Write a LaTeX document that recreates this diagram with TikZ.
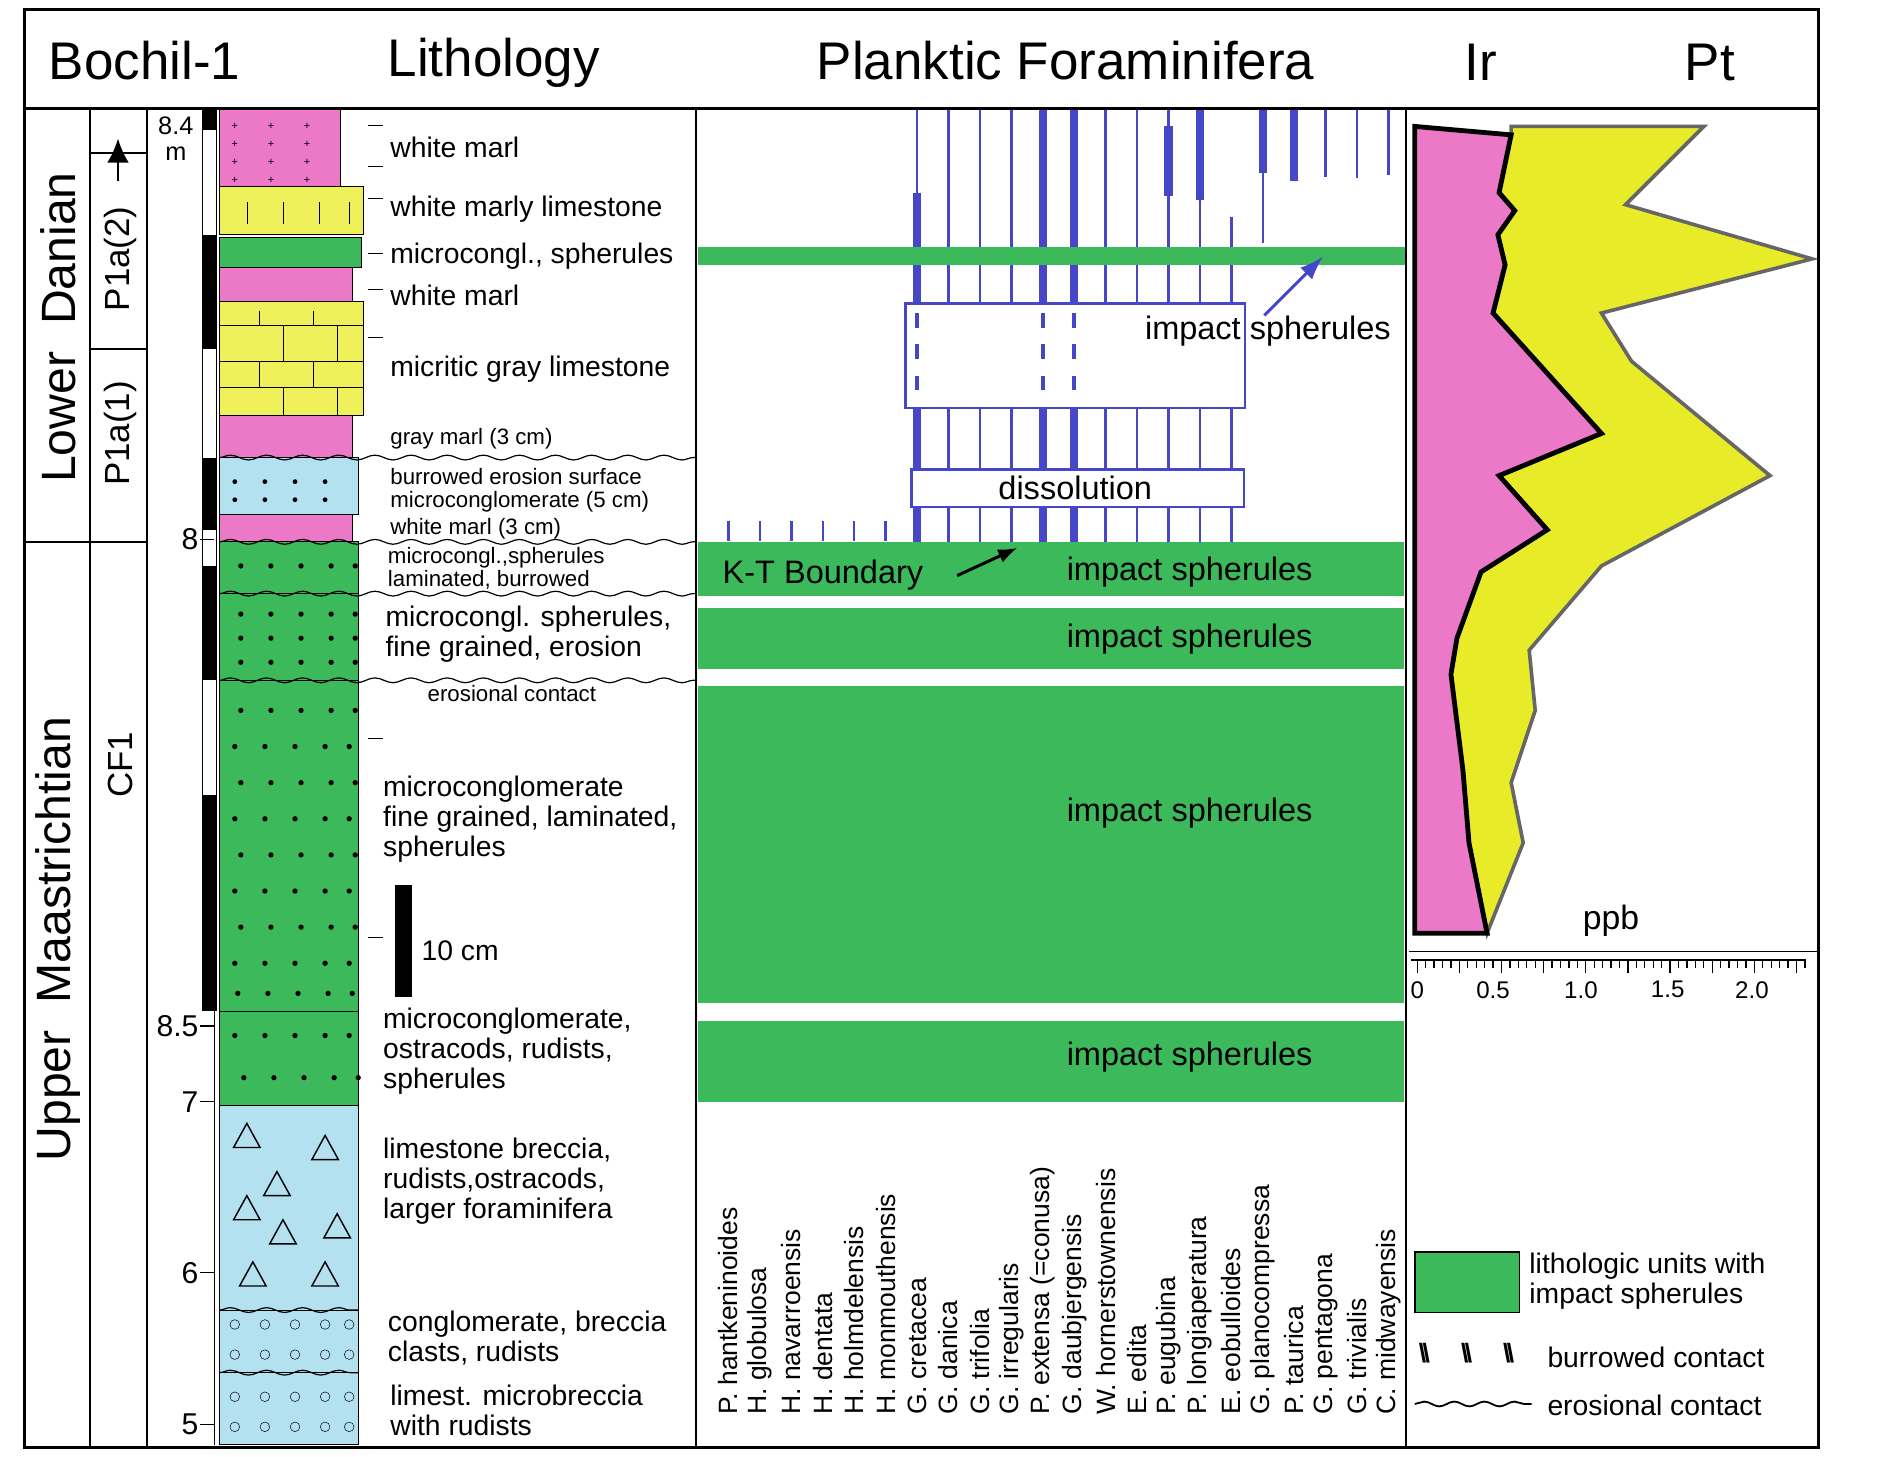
\documentclass[tikz,border=0pt]{standalone}
\usepackage{fontspec}
\setmainfont{Liberation Sans}
\usetikzlibrary{decorations.pathmorphing,arrows.meta}
\definecolor{mpink}{RGB}{236,120,200}
\definecolor{myel}{RGB}{240,240,90}
\definecolor{mgreen}{RGB}{60,185,90}
\definecolor{mblue}{RGB}{180,225,240}
\definecolor{rblue}{RGB}{70,70,200}
\definecolor{pyel}{RGB}{232,235,40}
\tikzset{
  hd/.style={font=\fontsize{44}{48}\selectfont,inner sep=0},
  lab/.style={font=\fontsize{23.5}{25}\selectfont,anchor=west,inner sep=0,align=left},
  slab/.style={font=\fontsize{18.5}{19.5}\selectfont,anchor=west,inner sep=0,align=left},
  sp/.style={font=\fontsize{22}{22}\selectfont,rotate=90,anchor=west,inner sep=0},
  isp/.style={font=\fontsize{27}{29}\selectfont,inner sep=0},
  layer/.style={draw=black,line width=0.8pt},
  rng/.style={draw=rblue,line width=2pt},
  rngt/.style={draw=rblue,line width=7pt},
  wavy/.style={draw=black,line width=1pt,decorate,decoration={snake,amplitude=2pt,segment length=30pt}},
  gband/.style={fill=mgreen,draw=none},
}
\begin{document}
\begin{tikzpicture}[x=1pt,y=-1pt]
\useasboundingbox (0,0) rectangle (1568,1210);
\fill[white] (0,0) rectangle (1568,1210);
% ---- lithology layers
\foreach \a/\b/\c/\r in {90/155/mpink/283,155/195/myel/302,197/222/mgreen/300,222/250/mpink/293,250/345/myel/302,345/380/mpink/293,380/427/mblue/298,427/450/mpink/293,450/493/mgreen/298,493/565/mgreen/298,565/840/mgreen/298,840/918/mgreen/298,918/1088/mblue/298,1088/1140/mblue/298,1140/1200/mblue/298}
  \filldraw[layer,fill=\c] (182,\a) rectangle (\r,\b);
% patterns
\foreach \y in {105,120,135,150} \foreach \x in {195,225,255} \node[font=\small,inner sep=0] at (\x,\y) {+};
\foreach \x in {205,235,265,290} \draw (\x,168)--(\x,186);
\draw (182,270)--(302,270) (182,300)--(302,300) (182,322)--(302,322);
\foreach \x in {215,260} \draw (\x,258)--(\x,270) ({\x+20},270)--({\x+20},300) (\x,300)--(\x,322) ({\x+20},322)--({\x+20},345);
\foreach \y in {470,510,530,550,590,620,650,680,710,740,770,800,825,860,895} \foreach \x in {195,220,245,270,290} \fill ({\x+mod(\y,20)/2},\y) circle (2.2);
\foreach \x/\y in {205/945,270/955,230/985,205/1005,280/1020,235/1025,210/1060,270/1060}
  \draw[line width=1.2pt] (\x,{\y-12})--({\x+11},{\y+8})--({\x-11},{\y+8})--cycle;
\foreach \y in {1100,1125,1160,1185} \foreach \x in {195,220,245,270,290} \draw (\x,\y) circle (4);
\foreach \y in {400,415} \foreach \x in {195,220,245,270} \fill (\x,\y) circle (2);
% erosion surfaces
\draw[wavy] (182,380)--(578,380);
\draw[wavy] (182,450)--(578,450);
\draw[wavy] (182,493)--(578,493);
\draw[wavy] (182,565)--(578,565);
\draw[wavy] (182,1088)--(298,1088);
\draw[wavy] (182,1140)--(298,1140);
% litho labels
\foreach \y/\t in {122/white marl,174/white marly limestone,213/{microcongl., spherules},245/white marl,307/micritic gray limestone}
  \node[lab] at (324,\y) {\t};
\foreach \y in {104,138,165,210,240,280} \draw (306,\y)--(318,\y);
\node[slab] at (324,364) {gray marl (3 cm)};
\node[slab,align=left] at (324,407) {burrowed erosion surface\\microconglomerate (5 cm)};
\node[slab] at (324,439) {white marl (3 cm)};
\node[slab,align=left] at (322,472) {microcongl.,spherules\\laminated, burrowed};
\node[lab] at (320,527) {microcongl. spherules,\\fine grained, erosion};
\node[slab] at (355,576) {erosional contact};
\draw (306,613)--(318,613) (306,778)--(318,778);
\node[lab] at (318,680) {microconglomerate\\fine grained, laminated,\\spherules};
\node[lab] at (318,873) {microconglomerate,\\ostracods, rudists,\\spherules};
\node[lab] at (318,981) {limestone breccia,\\rudists,ostracods,\\larger foraminifera};
\node[lab] at (322,1111) {conglomerate, breccia\\clasts, rudists};
\node[lab] at (324,1171) {limest. microbreccia\\with rudists};
\fill (328,735) rectangle (342,828);
\node[lab] (tencm) at (350,790) {10 cm};
% ---- depth scale
\draw[line width=1pt] (168,90)--(168,840) (180,90)--(180,840);
\foreach \a/\b in {90/108,195/290,380/440,470/565,660/745,745/840} \fill (168,\a) rectangle (180,\b);
\draw[line width=1pt] (178,840)--(178,1200);
\node[font=\fontsize{21}{22}\selectfont,align=center,inner sep=0] at (146,115) {8.4\\m};
\foreach \y/\t in {448/8,852/8.5,915/7,1057/6,1183/5} {\node[font=\fontsize{25}{26}\selectfont,anchor=east,inner sep=0] at (165,\y) {\t}; \draw[line width=1.2pt] (166,\y)--(178,\y);}
% ---- forams
\foreach \y/\h in {450/495,505/556,570/833,848/915} \fill[gband] (580,\y) rectangle (1166,\h);
\foreach \i in {0,...,5} \draw[rng] ({605+26.1*\i},433)--({605+26.1*\i},449);
\foreach \i in {6,...,16} \draw[rng] ({605+26.1*\i},{\i==16?180:90})--({605+26.1*\i},450);
\draw[rngt] (761.6,160)--(761.6,450);
\draw[rngt] (866,90)--(866,450);
\draw[rngt] (892,90)--(892,450);
\draw[rngt] (970.4,105)--(970.4,163);
\draw[rngt] (996.5,91)--(996.5,166);
\draw[rng] (1048.7,90)--(1048.7,202); \draw[rngt] (1048.7,91)--(1048.7,144);
\draw[rngt] (1074.8,91)--(1074.8,150);
\foreach \i/\e in {19/147,20/148,21/145} \draw[rng] ({605+26.1*\i},91)--({605+26.1*\i},\e);
\fill[gband] (580,205) rectangle (1168,220);
\filldraw[draw=rblue,line width=2pt,fill=white] (752,252) rectangle (1034,339);
\foreach \x in {761.6,866,892} \draw[rblue,line width=3pt,dash pattern=on 12pt off 14pt] (\x,260)--(\x,335);
\filldraw[draw=rblue,line width=2pt,fill=white] (757,390) rectangle (1033,421);
\node[isp] (diss) at (893,405) {dissolution};
\node[isp] (isp0) at (1053,275) {impact spherules};
\draw[rblue,line width=2.5pt,-{Latex[length=20pt,width=14pt]}] (1050,262)--(1099,213);
\foreach \y/\n in {475/a,531/b,675/c,878/d} \node[isp] (isp\n) at (988,\y) {impact spherules};
\node[isp,anchor=west] (kt) at (600,478) {K-T Boundary};
\draw[black,line width=2.5pt,-{Latex[length=16pt,width=12pt]}] (795,478)--(845,455);
\foreach \n [count=\i from 0] in {P. hantkeninoides,H. globulosa,H. navarroensis,H. dentata,H. holmdelensis,H. monmouthensis,G. cretacea,G. danica,G. trifolia,G. irregularis,P. extensa (=conusa),G. daubjergensis,W. hornerstownensis,E. edita,P. eugubina,P. longiaperatura,E. eobulloides,G. planocompressa,P. taurica,G. pentagona,G. trivialis,C. midwayensis}
  \node[sp] (s\i) at ({605+26.1*\i},1175) {\n};
% ---- Ir / Pt
\fill[mpink] (1175,105)--(1255,112)--(1245,160)--(1258,175)--(1244,195)--(1250,220)--(1240,260)--(1330,360)--(1245,395)--(1285,440)--(1230,475)--(1210,530)--(1205,560)--(1215,640)--(1220,700)--(1235,775)--(1175,775)--cycle;
\filldraw[fill=pyel,draw=gray!80!black,line width=3pt] (1255,105)--(1415,105)--(1350,170)--(1505,215)--(1330,260)--(1355,300)--(1470,395)--(1330,470)--(1270,540)--(1275,590)--(1255,650)--(1265,700)--(1235,775)--(1220,700)--(1215,640)--(1205,560)--(1210,530)--(1230,475)--(1285,440)--(1245,395)--(1330,360)--(1240,260)--(1250,220)--(1244,195)--(1258,175)--(1245,160)--(1255,112)--cycle;
\draw[line width=4pt] (1175,105)--(1255,112)--(1245,160)--(1258,175)--(1244,195)--(1250,220)--(1240,260)--(1330,360)--(1245,395)--(1285,440)--(1230,475)--(1210,530)--(1205,560)--(1215,640)--(1220,700)--(1235,775)--(1175,775)--cycle;
\node[font=\fontsize{28}{30}\selectfont,inner sep=0] (ppb) at (1338,765) {ppb};
\draw[line width=1.2pt] (1170,790)--(1510,790);
\draw[line width=1.5pt] (1172,797)--(1500,797);
\foreach \k in {0,...,46} \draw[line width=1pt] ({1177+7*\k},797)--({1177+7*\k},{\k/5==int(\k/5)?808:804});
\foreach \x/\t in {1177/0,1240/0.5,1313/1.0,1385/1.5,1455/2.0} \node[font=\fontsize{20}{20}\selectfont,inner sep=0] at (\x,822) {\t};
% legend
\filldraw[fill=mgreen,draw=black,line width=1.5pt] (1175,1040) rectangle (1262,1090);
\node[lab] (lg1) at (1270,1064) {lithologic units with\\impact spherules};
\foreach \x in {1183,1218,1253} \node[font=\bfseries\fontsize{22}{22}\selectfont,inner sep=0] at (\x,1124) {\textbackslash\hspace{-3pt}\textbackslash};
\node[lab] (lg2) at (1285,1127) {burrowed contact};
\draw[line width=1.5pt,decorate,decoration={snake,amplitude=2pt,segment length=25pt}] (1175,1166)--(1272,1166);
\node[lab] (lg3) at (1285,1167) {erosional contact};
% ---- frame and headers
\draw[line width=2.5pt] (20,8) rectangle (1510,1202);
\draw[line width=2pt] (20,90)--(1510,90);
\draw[line width=1.5pt] (75,90)--(75,1202) (122,90)--(122,1202) (578,90)--(578,1202) (1168,90)--(1168,1202);
\draw[line width=1.5pt] (20,450)--(122,450);
\draw[line width=1.5pt] (75,127)--(122,127);
\draw[line width=1.2pt] (75,290)--(122,290);
\draw[line width=2pt,-{Latex[length=20pt,width=18pt]}] (98,150)--(98,115);
\node[hd] (h1) at (120,50) {Bochil-1};
\node[hd] (h2) at (410,52) {Lithology};
\node[hd] (h3) at (885,50) {Planktic Foraminifera};
\node[hd] (h4) at (1230,52) {Ir};
\node[hd] (h5) at (1420,52) {Pt};
\node[font=\fontsize{40}{42}\selectfont,rotate=90,inner sep=0] (st1) at (48,272) {Lower\ \ Danian};
\node[font=\fontsize{40}{42}\selectfont,rotate=90,inner sep=0] (st2) at (48,780) {Upper\ \ Maastrichtian};
\node[font=\fontsize{29}{30}\selectfont,rotate=90,inner sep=0] (z1) at (100,215) {P1a(2)};
\node[font=\fontsize{29}{30}\selectfont,rotate=90,inner sep=0] (z2) at (100,360) {P1a(1)};
\node[font=\fontsize{29}{30}\selectfont,rotate=90,inner sep=0] (z3) at (100,635) {CF1};
\end{tikzpicture}
\end{document}
